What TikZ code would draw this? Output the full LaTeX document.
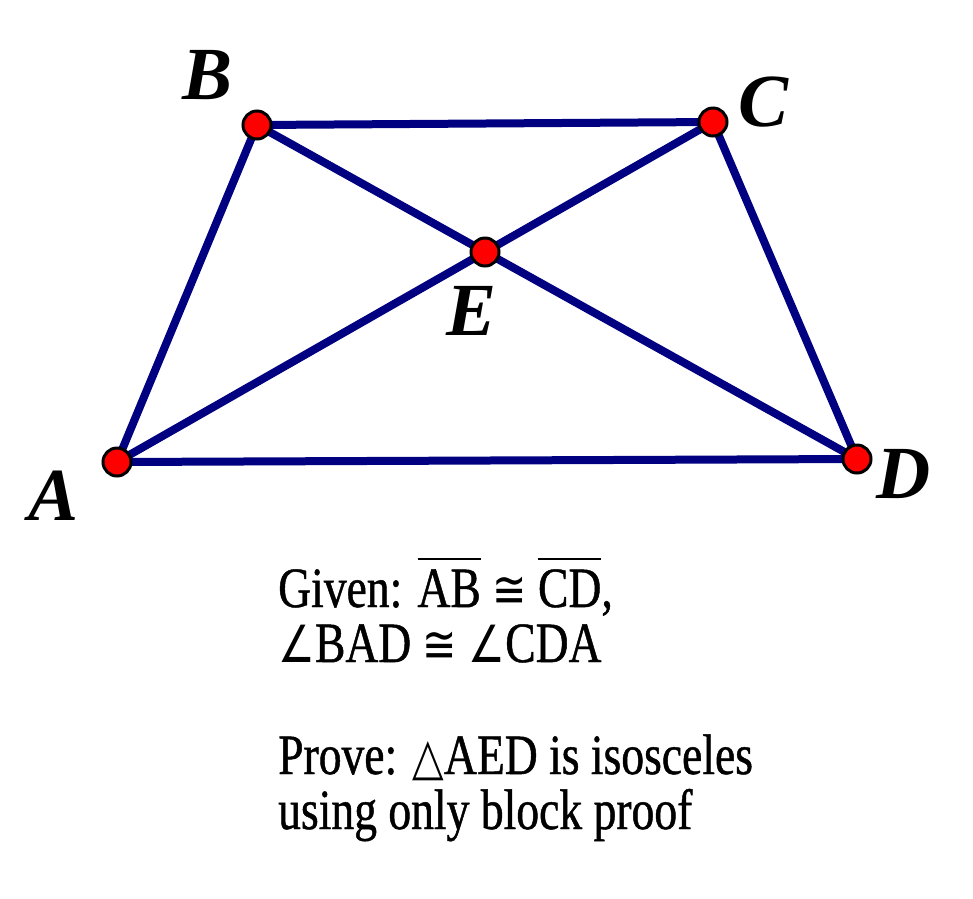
\documentclass[tikz,border=0pt]{standalone}
\usepackage{amssymb}
\usepackage{amsmath}
\usepackage{fontspec}
\setmainfont{Liberation Serif}
\newfontfamily\prooffont[FakeStretch=0.8,FakeBold=0.8]{Liberation Serif}
\newfontfamily\symbfont[FakeStretch=0.8,Scale=0.9]{DejaVu Sans}
\newcommand\segbar[1]{\hbox{\vbox{\hrule height 2.5pt\kern 9pt\hbox{#1}}}}
\newcommand\symb[1]{{\symbfont #1}}
\usepackage{tikz}

\begin{document}
\begin{tikzpicture}[x=1pt,y=-1pt]
\tikzset{vertex/.style = {shape=circle,draw=black,line width=3pt,fill=red,inner sep=0pt,minimum size=28pt}}
\tikzset{edge/.style = {draw={rgb,255:red,0;green,0;blue,128},line width=8pt}}
\tikzset{letter/.style = {anchor=base,inner sep=0pt,font=\fontsize{75}{75}\selectfont\bfseries\itshape}}
\tikzset{given/.style = {anchor=base west,align=left,inner sep=0pt,font=\fontsize{57}{55}\prooffont}}
\useasboundingbox (0,0) rectangle (973,898);
\coordinate (A) at (117,462);
\coordinate (B) at (257,125);
\coordinate (C) at (713,122);
\coordinate (D) at (857,459);
\coordinate (E) at (485,252);
\draw[edge] (A) -- (B) -- (C) -- (D) -- cycle;
\draw[edge] (A) to (C);
\draw[edge] (B) to (D);
\foreach \p in {A,B,C,D,E}
  \node[vertex] at (\p) {};
\node[letter] (la) at (54,520) {A};
\node[letter] (lb) at (208,99) {B};
\node[letter] (lc) at (763,126) {C};
\node[letter] (ld) at (904,498) {D};
\node[letter] (le) at (472,335) {E};
\node[given] (given) at (278,662) {Given: \segbar{AB} \symb{≅} \segbar{CD},\\ \symb{∠}BAD \symb{≅} \symb{∠}CDA};
\node[given] (prove) at (278,829) {Prove: \symb{△}AED is isosceles\\ using only block proof};
\end{tikzpicture}
\end{document}
